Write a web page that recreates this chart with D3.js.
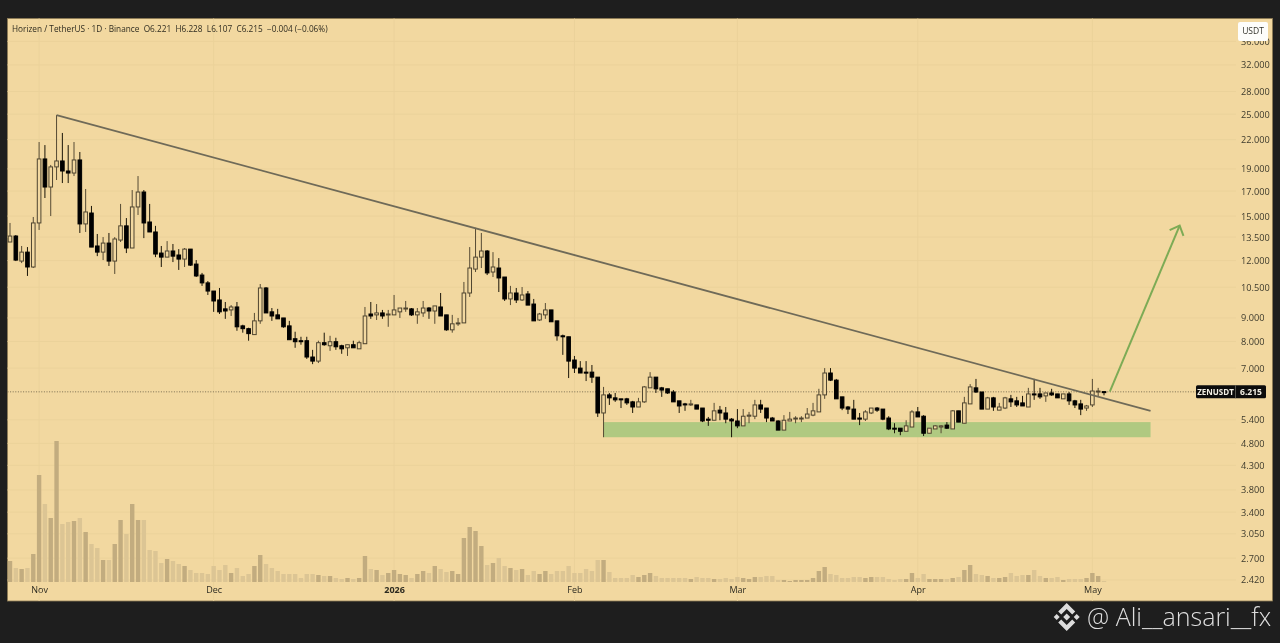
<!DOCTYPE html>
<html>
<head>
<meta charset="utf-8">
<title>ZENUSDT</title>
<script src="https://cdn.jsdelivr.net/npm/d3@7"></script>
<style>
  html, body { margin: 0; padding: 0; background: #1e1e1e; }
  svg { display: block; }
  text { font-family: "Open Sans", "DejaVu Sans", sans-serif; }
</style>
</head>
<body>
<div id="chart"></div>
<script>
var svgWidth = 1280;
var svgHeight = 643;

// Daily candles from 27 Oct 2025 to 3 May 2026, prices in USDT
var startDay = new Date(Date.UTC(2025, 9, 27));

var opens = [
  13.17,13.57,11.97,12.52,11.62,14.49,19.97,17.35,19.19,19.77,
  18.80,18.61,19.87,14.42,15.23,12.91,12.52,13.10,11.97,13.30,
  14.28,12.78,15.70,16.92,14.56,13.85,12.46,12.21,12.59,12.34,
  12.09,12.71,11.79,11.16,10.73,10.30,9.85,9.42,9.37,9.51,
  8.65,8.53,8.28,8.87,10.46,9.28,9.14,9.00,8.65,8.11,
  8.03,8.03,7.40,7.25,7.95,7.83,7.99,7.83,7.75,7.87,
  7.71,7.91,9.18,9.14,9.23,9.14,9.14,9.28,9.42,9.42,
  9.14,9.23,9.46,9.32,9.51,9.14,8.48,8.74,8.78,10.20,
  11.50,12.21,12.59,11.33,11.56,11.05,9.90,10.20,9.85,10.15,
  9.65,8.91,9.14,9.37,8.87,8.23,8.19,7.29,7.00,6.86,
  6.86,6.69,5.59,6.12,6.03,6.00,6.00,5.91,5.76,5.91,
  6.34,6.69,6.34,6.31,6.21,5.94,5.85,5.82,5.82,5.73,
  5.42,5.39,5.67,5.59,5.42,5.37,5.24,5.50,5.50,5.82,
  5.73,5.45,5.37,5.13,5.37,5.44,5.44,5.45,5.53,5.62,
  6.12,6.83,6.59,6.06,5.76,5.70,5.45,5.42,5.59,5.73,
  5.70,5.45,5.18,5.18,5.10,5.21,5.62,5.50,5.05,5.16,
  5.21,5.26,5.16,5.65,5.31,5.85,6.34,6.21,5.70,6.03,
  5.67,5.73,6.00,5.94,5.88,5.76,6.15,6.15,6.09,6.18,
  6.15,6.00,6.15,5.94,5.85,5.73,5.82,6.23,6.221
];
var highs = [
  14.49,13.64,12.91,12.84,14.93,21.74,21.41,19.38,24.89,22.75,
  21.41,21.74,20.68,17.18,15.78,13.71,13.50,13.78,13.50,15.94,
  14.85,17.09,18.33,17.09,15.94,14.28,12.91,13.23,13.04,12.71,
  12.78,12.71,12.03,11.28,10.83,10.30,10.46,9.75,9.60,9.75,
  8.70,8.57,9.23,10.67,10.51,9.46,9.42,9.00,8.87,8.40,
  8.19,8.19,7.67,8.03,8.36,8.23,8.15,7.87,7.87,8.03,
  8.03,9.51,9.75,9.65,9.37,9.37,10.10,9.46,9.80,9.46,
  9.46,9.80,9.51,9.56,10.20,9.14,9.14,9.00,10.78,12.84,
  14.14,13.78,12.65,12.52,12.15,11.05,10.57,10.46,10.51,10.30,
  9.90,9.23,9.70,9.37,8.87,8.28,8.19,7.44,7.25,7.25,
  7.11,6.69,6.37,6.18,6.18,6.00,6.03,5.94,6.03,6.40,
  6.86,6.69,6.37,6.31,6.27,5.94,5.88,5.97,5.82,5.73,
  5.48,5.88,5.79,5.76,5.45,5.70,5.70,5.62,5.97,5.97,
  5.73,5.48,5.39,5.53,5.62,5.50,5.50,5.73,5.88,6.31,
  7.00,7.00,6.63,6.06,5.79,5.97,5.59,5.67,5.73,5.76,
  5.70,5.50,5.31,5.18,5.39,5.67,5.76,5.53,5.18,5.26,
  5.26,5.34,5.67,5.65,6.06,6.46,6.63,6.21,6.06,6.06,
  5.88,6.06,6.12,6.06,6.09,6.34,6.63,6.34,6.18,6.31,
  6.15,6.15,6.21,5.97,5.97,5.82,6.63,6.34,6.228
];
var lows = [
  13.17,11.97,11.85,11.11,11.56,13.99,16.42,15.00,17.97,17.70,
  17.70,18.33,13.78,13.85,12.84,12.27,12.03,11.68,11.22,13.17,
  12.46,12.78,15.08,13.43,13.85,12.21,11.62,12.21,11.91,11.45,
  11.62,11.68,11.05,10.57,10.10,9.28,9.18,8.96,9.09,8.44,
  8.36,8.03,8.28,8.74,9.23,8.87,8.96,8.57,8.07,7.75,
  7.87,7.33,7.14,7.18,7.83,7.63,7.67,7.52,7.44,7.75,
  7.71,7.91,8.96,8.91,8.96,8.61,9.14,9.00,9.28,9.09,
  8.74,9.05,8.96,8.74,9.09,8.44,8.36,8.65,8.78,10.00,
  11.33,11.56,11.16,11.05,10.25,9.80,9.60,9.70,9.80,9.60,
  8.87,8.87,8.96,8.83,8.03,7.48,6.66,6.83,6.83,6.56,
  6.50,5.48,4.95,5.82,5.91,5.73,5.82,5.59,5.76,5.88,
  6.34,6.18,6.06,6.15,5.91,5.59,5.65,5.79,5.70,5.34,
  5.24,5.39,5.39,5.31,4.95,5.18,5.24,5.31,5.42,5.59,
  5.34,5.37,5.13,5.13,5.37,5.31,5.34,5.45,5.50,5.62,
  6.00,6.56,6.00,5.67,5.56,5.42,5.26,5.37,5.56,5.62,
  5.39,5.13,5.05,5.00,5.10,5.21,5.48,4.98,5.05,5.16,
  5.05,5.16,5.16,5.34,5.31,5.85,6.18,5.70,5.70,5.65,
  5.67,5.70,5.76,5.76,5.79,5.76,5.97,6.00,5.91,6.09,
  6.03,6.00,5.82,5.73,5.53,5.65,5.76,6.06,6.107
];
var closes = [
  13.57,12.03,12.52,11.62,14.49,19.97,17.35,19.19,19.77,18.80,
  18.61,19.87,14.42,15.31,12.84,12.52,13.10,11.97,13.37,14.28,
  12.78,15.70,16.92,14.49,13.85,12.40,12.21,12.59,12.27,12.09,
  12.71,11.73,11.11,10.73,10.30,9.80,9.28,9.32,9.51,8.61,
  8.53,8.32,8.87,10.46,9.23,9.09,8.96,8.61,8.07,7.99,
  8.01,7.40,7.25,7.95,7.87,7.99,7.79,7.71,7.87,7.75,
  7.95,9.09,9.09,9.23,9.09,9.18,9.37,9.46,9.46,9.14,
  9.28,9.46,9.32,9.56,9.09,8.48,8.74,8.78,10.20,11.56,
  12.21,12.59,11.28,11.62,11.00,9.90,10.20,9.85,10.10,9.60,
  8.87,9.18,9.37,8.83,8.23,8.19,7.25,7.00,6.83,6.83,
  6.69,5.59,6.12,6.03,5.97,5.97,5.88,5.76,5.91,6.37,
  6.69,6.31,6.27,6.18,5.91,5.79,5.82,5.85,5.70,5.37,
  5.39,5.65,5.59,5.42,5.37,5.24,5.50,5.53,5.82,5.70,
  5.45,5.37,5.13,5.39,5.42,5.45,5.45,5.56,5.65,6.12,
  6.83,6.59,6.00,5.73,5.70,5.42,5.42,5.62,5.73,5.67,
  5.42,5.16,5.16,5.10,5.24,5.62,5.48,5.05,5.18,5.24,
  5.24,5.18,5.65,5.34,5.88,6.37,6.21,5.70,6.03,5.76,
  5.76,6.03,5.91,5.82,5.79,6.15,6.12,6.06,6.18,6.12,
  6.03,6.15,5.94,5.82,5.70,5.79,6.24,6.24,6.215
];
// Volume has no axis on the original, so this is only a relative reading
var volumes = [
  210,140,130,140,280,1070,780,640,1410,580,
  600,610,640,500,380,340,220,220,380,620,
  480,780,620,620,320,310,190,230,210,180,
  160,120,90,90,80,160,120,170,90,140,
  60,80,160,270,180,140,110,80,80,80,
  40,80,80,70,60,60,40,30,40,30,
  40,260,130,120,70,90,120,80,70,40,
  80,110,90,160,130,100,110,80,440,550,
  510,360,170,190,240,160,140,120,130,70,
  110,80,110,80,110,110,160,90,90,130,
  110,220,220,100,40,40,40,70,50,70,
  90,60,40,40,40,40,40,30,50,40,
  40,30,30,40,30,50,40,30,50,50,
  60,60,20,20,10,20,20,20,40,110,
  150,80,70,40,40,50,50,40,50,50,
  50,30,20,30,30,90,40,80,30,30,
  30,30,40,50,120,170,80,70,60,40,
  40,50,90,60,70,70,120,60,40,40,
  50,20,30,30,30,40,90,60,10
];

var priceTicks = [36, 32, 28, 25, 22, 19, 17, 15, 13.5, 12, 10.5, 9, 8, 7, 5.4, 4.8, 4.3, 3.8, 3.4, 3.05, 2.7, 2.42];
var monthTicks = [
  new Date(Date.UTC(2025, 10, 1)), new Date(Date.UTC(2025, 11, 1)), new Date(Date.UTC(2026, 0, 1)),
  new Date(Date.UTC(2026, 1, 1)), new Date(Date.UTC(2026, 2, 1)), new Date(Date.UTC(2026, 3, 1)),
  new Date(Date.UTC(2026, 4, 1))
];
var monthLabels = ["Nov", "Dec", "2026", "Feb", "Mar", "Apr", "May"];

// Drawings on the chart: falling trendline, support zone, projected breakout
var trendDates = [new Date(Date.UTC(2025, 10, 4)), new Date(Date.UTC(2026, 4, 11))];
var trendPrices = [24.89, 5.65];
var zoneDates = [new Date(Date.UTC(2026, 1, 6)), new Date(Date.UTC(2026, 4, 11))];
var zonePrices = [5.34, 4.95];
var arrowDates = [new Date(Date.UTC(2026, 4, 4)), new Date(Date.UTC(2026, 4, 16))];
var arrowPrices = [6.22, 14.3];

var lastPrice = 6.215;
var titleText = "Horizen / TetherUS \u00b7 1D \u00b7 Binance";
var ohlcText = "O6.221  H6.228  L6.107  C6.215  \u22120.004 (\u22120.06%)";

var candles = opens.map(function(o, i) {
  return {
    date: d3.utcDay.offset(startDay, i),
    open: o, high: highs[i], low: lows[i], close: closes[i], volume: volumes[i]
  };
});

// panel edges in the photographed screen
var panel = { left: 7.5, right: 1272.5, top: 18.5, bottom: 601 };
var gridRight = 1236;

var svg = d3.select("#chart").append("svg")
    .attr("width", svgWidth)
    .attr("height", svgHeight);

var defs = svg.append("defs");
defs.append("filter").attr("id", "soft")
    .attr("color-interpolation-filters", "sRGB")
    .append("feGaussianBlur").attr("stdDeviation", 0.35);

defs.append("marker").attr("id", "arrowHead")
    .attr("markerUnits", "userSpaceOnUse")
    .attr("viewBox", "-12 -12 24 24")
    .attr("markerWidth", 24).attr("markerHeight", 24)
    .attr("orient", "auto")
    .append("path")
    .attr("d", "M-8,-7.5L0,0L-8,7.5")
    .attr("fill", "none")
    .attr("stroke", "#7dab55")
    .attr("stroke-width", 2);

var root = svg.append("g").attr("filter", "url(#soft)");

root.append("rect")
    .attr("x", panel.left).attr("y", panel.top)
    .attr("width", panel.right - panel.left)
    .attr("height", panel.bottom - panel.top)
    .attr("fill", "#f2d8a0")
    .attr("stroke", "#8d7c55")
    .attr("stroke-width", 0.8);

// scales
var xScale = d3.scaleUtc()
    .domain([startDay, candles[candles.length - 1].date])
    .range([10, 1104]);

var yScale = d3.scaleLog()
    .domain([36, 2.42])
    .range([41.4, 580]);

var volScale = d3.scaleLinear()
    .domain([0, d3.max(volumes)])
    .range([582, 441]);

// grid
root.append("g").selectAll("line")
    .data(priceTicks)
    .enter().append("line")
    .attr("x1", panel.left).attr("x2", gridRight)
    .attr("y1", d => yScale(d)).attr("y2", d => yScale(d))
    .attr("stroke", "#ebd29a").attr("stroke-width", 1);

root.append("g").selectAll("line")
    .data(monthTicks)
    .enter().append("line")
    .attr("x1", d => xScale(d)).attr("x2", d => xScale(d))
    .attr("y1", panel.top).attr("y2", panel.bottom)
    .attr("stroke", "#ebd29a").attr("stroke-width", 1);

// volume
var barWidth = 4.4;
root.append("g").selectAll("rect")
    .data(candles)
    .enter().append("rect")
    .attr("x", d => xScale(d.date) - barWidth / 2)
    .attr("y", d => volScale(d.volume))
    .attr("width", barWidth)
    .attr("height", d => volScale(0) - volScale(d.volume))
    .attr("fill", d => d.close >= d.open ? "#c2ac7f" : "#dcc594");

// support zone sits under the candles
root.append("rect")
    .attr("x", xScale(zoneDates[0]))
    .attr("y", yScale(zonePrices[0]))
    .attr("width", xScale(zoneDates[1]) - xScale(zoneDates[0]))
    .attr("height", yScale(zonePrices[1]) - yScale(zonePrices[0]))
    .attr("fill", "#b0c981");

// last price line
root.append("line")
    .attr("x1", panel.left).attr("x2", 1196)
    .attr("y1", yScale(lastPrice)).attr("y2", yScale(lastPrice))
    .attr("stroke", "#6e6349")
    .attr("stroke-width", 0.9)
    .attr("stroke-dasharray", "1,1.6");

// candles
var bodyWidth = 3.6;
var candleGroup = root.append("g");

candleGroup.selectAll("line")
    .data(candles)
    .enter().append("line")
    .attr("x1", d => xScale(d.date)).attr("x2", d => xScale(d.date))
    .attr("y1", d => yScale(d.high)).attr("y2", d => yScale(d.low))
    .attr("stroke", d => d.close >= d.open ? "#564b34" : "#1a1508")
    .attr("stroke-width", 1);

candleGroup.selectAll("rect")
    .data(candles)
    .enter().append("rect")
    .attr("x", d => xScale(d.date) - bodyWidth / 2)
    .attr("y", d => yScale(Math.max(d.open, d.close)))
    .attr("width", bodyWidth)
    .attr("height", d => Math.max(1, Math.abs(yScale(d.open) - yScale(d.close))))
    .attr("fill", d => d.close >= d.open ? "#f2d8a0" : "#000")
    .attr("stroke", d => d.close >= d.open ? "#4f4530" : "#000")
    .attr("stroke-width", 1);

// trendline and arrow
root.append("line")
    .attr("x1", xScale(trendDates[0])).attr("y1", yScale(trendPrices[0]))
    .attr("x2", xScale(trendDates[1])).attr("y2", yScale(trendPrices[1]))
    .attr("stroke", "#6f6a58")
    .attr("stroke-width", 1.8);

root.append("line")
    .attr("x1", xScale(arrowDates[0])).attr("y1", yScale(arrowPrices[0]))
    .attr("x2", xScale(arrowDates[1])).attr("y2", yScale(arrowPrices[1]))
    .attr("stroke", "#7dab55")
    .attr("stroke-width", 2)
    .attr("marker-end", "url(#arrowHead)");

// axes
var yAxis = d3.axisRight(yScale)
    .tickValues(priceTicks)
    .tickFormat(d3.format(".3f"))
    .tickSize(0)
    .tickPadding(0);

var yAxisG = root.append("g")
    .attr("transform", "translate(1241,0)")
    .call(yAxis);
yAxisG.select(".domain").remove();
yAxisG.selectAll("text")
    .attr("font-size", 9.2)
    .attr("fill", "#3d3a2c")
    .style("font-family", '"Open Sans", sans-serif');

var xAxis = d3.axisBottom(xScale)
    .tickValues(monthTicks)
    .tickFormat((d, i) => monthLabels[i])
    .tickSize(0)
    .tickPadding(0);

var xAxisG = root.append("g")
    .attr("transform", "translate(0,587)")
    .call(xAxis);
xAxisG.select(".domain").remove();
xAxisG.selectAll("text")
    .attr("font-size", 9)
    .attr("fill", "#2c2a20")
    .attr("font-weight", d => d.getUTCFullYear() == 2026 && d.getUTCMonth() == 0 ? 700 : 400)
    .style("font-family", '"Open Sans", sans-serif');

// legend line
root.append("text")
    .attr("x", 12).attr("y", 32)
    .attr("font-size", 8.25)
    .attr("fill", "#2f2c20")
    .attr("xml:space", "preserve")
    .style("white-space", "pre")
    .text(titleText + "  " + ohlcText);

// USDT box
root.append("rect")
    .attr("x", 1238).attr("y", 22)
    .attr("width", 30).attr("height", 19)
    .attr("rx", 2)
    .attr("fill", "#fdfdfb");
root.append("text")
    .attr("x", 1253).attr("y", 34)
    .attr("text-anchor", "middle")
    .attr("font-size", 8.5)
    .attr("fill", "#33332c")
    .text("USDT");

// last price tag
root.append("rect")
    .attr("x", 1196).attr("y", yScale(lastPrice) - 6.5)
    .attr("width", 70).attr("height", 13)
    .attr("rx", 1.5)
    .attr("fill", "#0c0c0c");
root.append("line")
    .attr("x1", 1235.5).attr("x2", 1235.5)
    .attr("y1", yScale(lastPrice) - 6.5).attr("y2", yScale(lastPrice) + 6.5)
    .attr("stroke", "#77756c").attr("stroke-width", 0.7);
root.append("text")
    .attr("x", 1215.5).attr("y", yScale(lastPrice) + 3)
    .attr("text-anchor", "middle")
    .attr("font-size", 8)
    .attr("font-weight", 700)
    .attr("fill", "#f4f1e6")
    .text("ZENUSDT");
root.append("text")
    .attr("x", 1251).attr("y", yScale(lastPrice) + 3)
    .attr("text-anchor", "middle")
    .attr("font-size", 8.5)
    .attr("font-weight", 700)
    .attr("fill", "#f4f1e6")
    .text(d3.format(".3f")(lastPrice));

// Binance mark and account name along the bottom
var logo = root.append("g")
    .attr("transform", "translate(1066.7,617)")
    .attr("fill", "#dcdcdc");
logo.append("path").attr("d", "M0,-14L8.5,-5.5L5.5,-2.5L0,-8L-5.5,-2.5L-8.5,-5.5Z");
logo.append("path").attr("d", "M0,14L8.5,5.5L5.5,2.5L0,8L-5.5,2.5L-8.5,5.5Z");
logo.append("path").attr("d", "M0,-3.5L3.5,0L0,3.5L-3.5,0Z");
logo.append("path").attr("d", "M-10,-3L-7,0L-10,3L-13,0Z");
logo.append("path").attr("d", "M10,-3L13,0L10,3L7,0Z");

root.append("text")
    .attr("x", 1087).attr("y", 626)
    .attr("font-size", 25)
    .attr("font-weight", 300)
    .attr("fill", "#dedede")
    .style("font-family", '"Open Sans", sans-serif')
    .text("@ Ali__ansari__fx");
</script>
</body>
</html>
